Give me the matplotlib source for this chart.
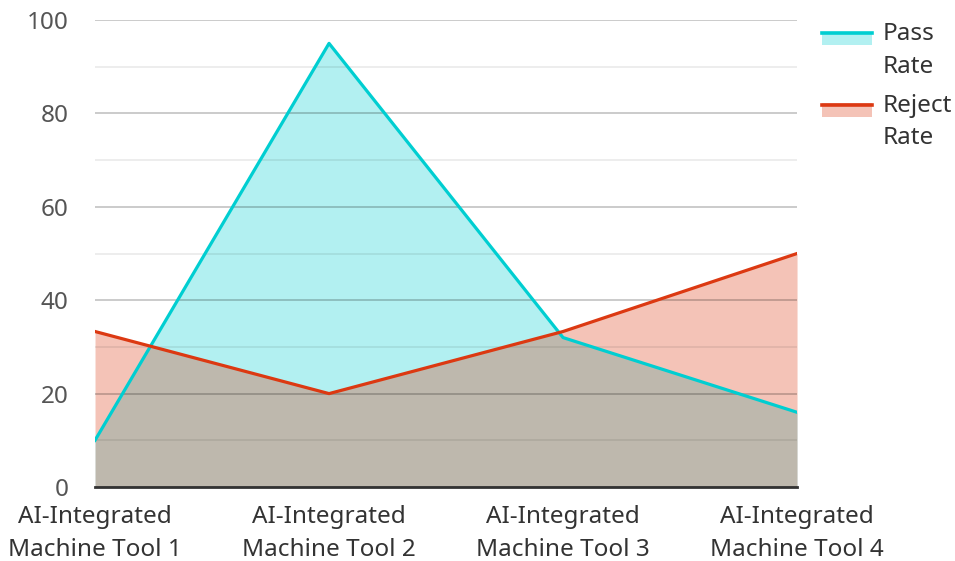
import matplotlib
matplotlib.use('Agg')
import matplotlib.pyplot as plt
from matplotlib.legend_handler import HandlerBase
from matplotlib.patches import Rectangle
from matplotlib.lines import Line2D

plt.rcParams['font.family'] = ['Noto Sans', 'DejaVu Sans']

categories = ['AI-Integrated\nMachine Tool 1', 'AI-Integrated\nMachine Tool 2',
              'AI-Integrated\nMachine Tool 3', 'AI-Integrated\nMachine Tool 4']
pass_rate = [10, 95, 32, 16]
reject_rate = [33.3, 20, 33.3, 50]
series_names = ['Pass\nRate', 'Reject\nRate']
series_colors = ['#00CED1', '#DC3912']
y_ticks = [0, 20, 40, 60, 80, 100]
y_minor = [10, 30, 50, 70, 90]


class AreaHandle(HandlerBase):
    # patch with the line on its top edge, sitting next to the first text line
    def create_artists(self, legend, orig, xd, yd, w, h, fontsize, trans):
        color = orig.get_color()
        y0 = yd + fontsize * 0.58
        rect = Rectangle((xd, y0), w, 10, facecolor=color, alpha=0.3,
                         edgecolor='none', transform=trans)
        line = Line2D([xd, xd + w], [y0 + 9, y0 + 9], color=color, lw=2.6,
                      transform=trans)
        return [rect, line]


fig = plt.figure(figsize=(9.55, 5.61), dpi=100)
ax = fig.add_axes([0.0995, 0.1319, 0.7351, 0.8324])

x = list(range(len(categories)))
handles = []
for vals, name, col in zip([pass_rate, reject_rate], series_names, series_colors):
    ax.fill_between(x, 0, vals, color=col, alpha=0.3, lw=0, zorder=1)
    ln, = ax.plot(x, vals, color=col, lw=2.3, zorder=3, label=name)
    handles.append(ln)

ax.set_xlim(0, len(categories) - 1)
ax.set_ylim(0, 100)
ax.set_yticks(y_ticks)
ax.set_yticks(y_minor, minor=True)
ax.grid(axis='y', which='major', color='black', alpha=0.22, lw=1.3, zorder=2)
ax.grid(axis='y', which='minor', color='black', alpha=0.08, lw=1.3, zorder=2)
ax.set_axisbelow(False)
for s in ['top', 'right', 'left']:
    ax.spines[s].set_visible(False)
ax.spines['bottom'].set_color('#333333')
ax.spines['bottom'].set_linewidth(2)
ax.spines['bottom'].set_zorder(4)
ax.tick_params(axis='both', which='both', length=0)
ax.tick_params(axis='y', labelsize=17.5, labelcolor='#555555', pad=19)
ax.tick_params(axis='x', labelsize=17.5, labelcolor='#333333', pad=13)
ax.set_xticks(x)
ax.set_xticklabels(categories, linespacing=1.47)

leg = ax.legend(handles=handles, labels=series_names, handler_map={Line2D: AreaHandle()},
                loc='upper left', bbox_to_anchor=(0.861, 0.96), bbox_transform=fig.transFigure,
                frameon=False, fontsize=17.5, handlelength=2.06, handletextpad=0.41,
                labelspacing=0.65, borderaxespad=0, borderpad=0, labelcolor='#333333')
for t in leg.get_texts():
    t.set_linespacing(1.45)

fig.savefig('out.png', dpi=100)
